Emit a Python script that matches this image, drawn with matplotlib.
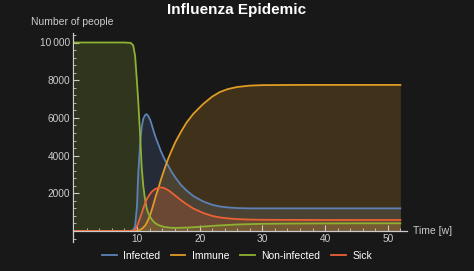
import matplotlib
matplotlib.use("Agg")
import matplotlib.pyplot as plt
from matplotlib.ticker import FixedLocator

plt.rcParams['font.family'] = ['Liberation Sans', 'DejaVu Sans']

# ---- data ----
t = [0, 8, 9, 9.4, 9.7, 10.0, 10.2, 10.5, 10.75, 11.0, 11.3, 11.55, 11.8, 12.1,
     12.35, 12.7, 13.0, 13.4, 13.8, 14.2, 14.5, 15.0, 15.5, 16.1, 17.0, 17.9,
     19.0, 20.6, 22.0, 23.2, 24.5, 26.0, 28.0, 30.0, 35.0, 40.0, 45.0, 52.0]

infected = [0, 0, 5, 60, 250, 1300, 3000, 4600, 5500, 5950, 6150, 6200, 6100, 5900,
            5650, 5250, 4950, 4600, 4250, 3950, 3750, 3450, 3150, 2850, 2450, 2150,
            1850, 1560, 1390, 1300, 1250, 1215, 1200, 1200, 1200, 1200, 1200, 1200]

immune = [0, 0, 0, 0, 2, 10, 25, 60, 110, 180, 290, 420, 600, 850,
          1110, 1500, 1850, 2250, 2700, 3100, 3400, 3850, 4250, 4700, 5250, 5750,
          6220, 6750, 7130, 7370, 7530, 7640, 7712, 7738, 7748, 7750, 7750, 7750]

noninfected = [10000, 10000, 9980, 9850, 9300, 7900, 6900, 5100, 3400, 2400, 1650, 1200, 950, 760,
               620, 480, 400, 320, 270, 230, 210, 185, 170, 165, 170, 180,
               200, 235, 270, 295, 320, 345, 365, 380, 395, 402, 406, 408]

sick = [0, 0, 0, 10, 60, 250, 420, 700, 940, 1200, 1480, 1680, 1820, 1970,
        2080, 2180, 2240, 2290, 2310, 2290, 2250, 2160, 2040, 1880, 1640, 1420,
        1190, 950, 800, 720, 670, 630, 605, 595, 588, 585, 584, 584]

series_names = ["Infected", "Immune", "Non-infected", "Sick"]
series_values = [infected, immune, noninfected, sick]
series_colors = ["#5E81B5", "#E19C24", "#8FB032", "#EB6235"]

y_ticks = [2000, 4000, 6000, 8000, 10000]
y_tick_labels = ["2000", "4000", "6000", "8000", "10\u2009000"]
x_ticks = [10, 20, 30, 40, 50]
x_tick_labels = ["10", "20", "30", "40", "50"]

# ---- figure ----
bg = "#181818"
fg = "#cccccc"
fig = plt.figure(figsize=(4.74, 2.71), dpi=100, facecolor=bg)
ax = fig.add_axes([73/474, 1-242/271, (407-73)/474, (242-33)/271])
ax.set_facecolor(bg)

for name, vals, col in zip(series_names, series_values, series_colors):
    ax.fill_between(t, 0, vals, color=col, alpha=0.2, linewidth=0)
    ax.plot(t, vals, color=col, lw=1.3, label=name)

ax.set_xlim(-0.2, 53.06)
ax.set_ylim(-584, 10504)

for s in ["top", "right"]:
    ax.spines[s].set_visible(False)
ax.spines["bottom"].set_position(("data", 0))
for s in ["left", "bottom"]:
    ax.spines[s].set_color(fg)
    ax.spines[s].set_linewidth(0.9)

ax.set_xticks(x_ticks)
ax.set_xticklabels(x_tick_labels)
ax.set_yticks(y_ticks)
ax.set_yticklabels(y_tick_labels)
ax.xaxis.set_minor_locator(FixedLocator([v for v in range(2, 53, 2) if v % 10 != 0]))
ax.yaxis.set_minor_locator(FixedLocator([v for v in range(-400, 10401, 400) if v % 2000 != 0]))

ax.tick_params(axis="both", which="major", direction="in", length=4, width=0.8,
               colors=fg, labelsize=7.3, pad=2)
ax.tick_params(axis="both", which="minor", direction="in", length=2, width=0.6,
               colors=fg)

fig.text(0.5, 1-10/271, "Influenza Epidemic", color="white", fontsize=11,
         fontweight="bold", ha="center", va="center")
fig.text(72.5/474, 1-22/271, "Number of people", color=fg, fontsize=7.5,
         ha="center", va="center")
fig.text(413/474, 1-231/271, "Time [w]", color=fg, fontsize=7.5,
         ha="left", va="center")

leg = fig.legend(loc="center", bbox_to_anchor=(0.5, 1-256/271), ncol=4,
                 frameon=False, fontsize=7.5, handlelength=1.4, columnspacing=1.0,
                 handletextpad=0.65)
for txt in leg.get_texts():
    txt.set_color("white")

fig.savefig("out.png", dpi=100, facecolor=bg)
